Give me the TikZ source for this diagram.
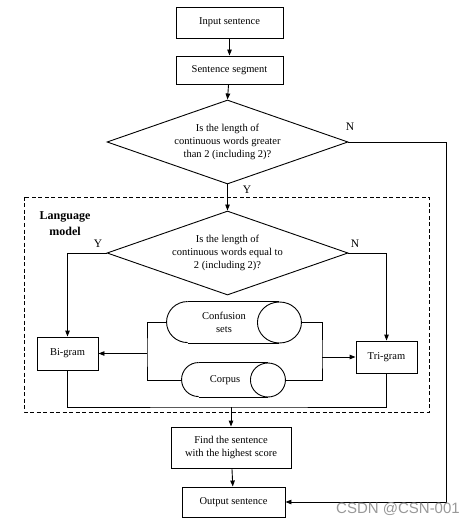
\documentclass[tikz,border=0pt]{standalone}
\usepackage{fontspec}
\setmainfont{Liberation Serif}
\newfontfamily\wmfont{Liberation Sans}
\usetikzlibrary{arrows.meta,shapes.geometric,calc}
\begin{document}
\begin{tikzpicture}[x=1pt,y=-1pt,
  line width=0.9pt,
  every node/.style={font=\fontsize{10.5}{13}\selectfont},
  box/.style={draw,rectangle,inner sep=0pt,align=center},
  dec/.style={draw,diamond,inner sep=0pt,align=center,aspect=2.87},
  lbl/.style={font=\fontsize{11.5}{12}\selectfont},
  arr/.style={-{Triangle[length=6pt,width=4.5pt]}},
  cyl/.style={inner sep=0pt,align=center}
]
\path[use as bounding box] (0,0) rectangle (474,526);

% boxes
\node[box,minimum width=107pt,minimum height=31pt] (in) at (229.5,22.5) {Input sentence};
\node[box,minimum width=107pt,minimum height=28pt] (seg) at (229.5,70) {Sentence segment};
\node[dec,minimum width=241pt,minimum height=84pt] (d1) at (227.5,142) {Is the length of\\continuous words greater\\than 2 (including 2)?};
\node[dec,minimum width=241pt,minimum height=84pt] (d2) at (227.5,253) {Is the length of\\continuous words equal to\\2 (including 2)?};
\node[box,minimum width=61pt,minimum height=33pt] (bi) at (67.5,353.5) {Bi-gram};
\node[box,minimum width=61pt,minimum height=32pt] (tri) at (386.5,357) {Tri-gram};
\node[box,minimum width=120pt,minimum height=41pt] (find) at (231,447.5) {Find the sentence\\with the highest score};
\node[box,minimum width=103pt,minimum height=30pt] (out) at (233.5,502) {Output sentence};

% dashed language model frame
\draw[dash pattern=on 4pt off 2.5pt] (24,197) rectangle (429,412);
\node[align=center,font=\fontsize{12}{16}\selectfont\bfseries] (lm) at (65,224) {Language\\model};

% cylinders
\node[cyl,minimum width=134pt,minimum height=41pt] (cs) at (234,322.5) {};
\node[cyl] (cst) at (224,322.5) {Confusion\\sets};
\draw ($(cs.north west)+(21,0)$) -- ($(cs.north east)+(-22,0)$)
      ($(cs.south west)+(21,0)$) -- ($(cs.south east)+(-22,0)$);
\draw ($(cs.north west)+(21,0)$) arc[start angle=90,end angle=270,x radius=21pt,y radius=20.5pt];
\draw ($(cs.east)+(-22,0)$) ellipse[x radius=22pt,y radius=20.5pt];

\node[cyl,minimum width=103pt,minimum height=34pt] (co) at (233.5,380) {};
\node[cyl] (cot) at (225,380) {Corpus};
\draw ($(co.north west)+(17,0)$) -- ($(co.north east)+(-17.5,0)$)
      ($(co.south west)+(17,0)$) -- ($(co.south east)+(-17.5,0)$);
\draw ($(co.north west)+(17,0)$) arc[start angle=90,end angle=270,x radius=17pt,y radius=17pt];
\draw ($(co.east)+(-17.5,0)$) ellipse[x radius=17.5pt,y radius=17pt];

% connectors
\draw[arr] (in) -- (seg);
\draw[arr] (seg) -- (d1.north);
\draw[arr] (d1.south) -- (d2.north);
\node[lbl] (y1) at (247,190) {Y};
\coordinate (rr) at (446,142);
\draw[arr] (d1.east) -- (rr) |- (out.east);
\node[lbl] (n1) at (350,127) {N};

\draw[arr] (d2.west) -| (bi.north);
\draw[arr] (d2.east) -| (tri.north);
\node[lbl] (y2) at (98,244) {Y};
\node[lbl] (n2) at (355,244) {N};

\coordinate (lb) at (147,353.5);
\draw (cs.west) -| (lb) |- (co.west);
\draw[arr] (lb) -- (bi.east);
\coordinate (rb) at (322,357);
\draw (cs.east) -| (rb) |- (co.east);
\draw[arr] (rb) -- (tri.west);

\coordinate (bm) at (231,407);
\draw (bi.south) |- (bm) -| (tri.south);
\draw[arr] (bm) -- (find.north);
\draw[arr] (find) -- (out);

% watermark
\node[font=\fontsize{15}{15}\selectfont\wmfont,text=black!40] (wm) at (398,509) {CSDN @CSN-001};
\end{tikzpicture}
\end{document}
